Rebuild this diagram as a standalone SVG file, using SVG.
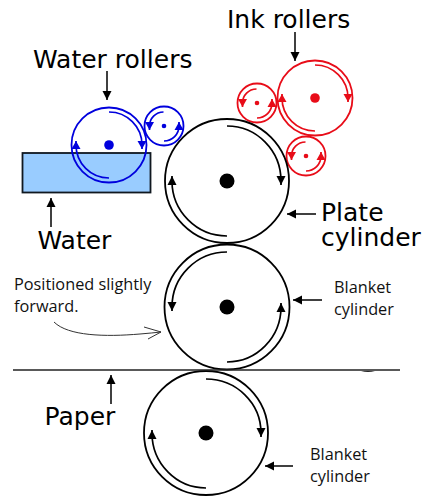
<svg xmlns="http://www.w3.org/2000/svg" width="440" height="497" viewBox="0 0 440 497">
<style>
.k{font-family:"DejaVu Sans",sans-serif;font-size:25px;fill:#000}
.o{font-family:"Open Sans",sans-serif;font-size:16.300px;fill:#111}
.c{fill:none;stroke-width:1.800}
.a{fill:none;stroke-width:1.700}
.bk{stroke:#000}.bl{stroke:#0000dd}.rd{stroke:#e80c18}
.l{fill:none;stroke:#000;stroke-width:1.500}
</style>
<defs>
<marker id="ak" markerUnits="userSpaceOnUse" markerWidth="12" markerHeight="12" refX="9" refY="5" orient="auto"><path d="M0,0.500 L9,5 L0,9.500 z" fill="#000"/></marker>
<marker id="ab" markerUnits="userSpaceOnUse" markerWidth="12" markerHeight="12" refX="8" refY="5" orient="auto"><path d="M0,0.500 L8,5 L0,9.500 z" fill="#0000dd"/></marker>
<marker id="ar" markerUnits="userSpaceOnUse" markerWidth="12" markerHeight="12" refX="8" refY="5" orient="auto"><path d="M0,0.500 L8,5 L0,9.500 z" fill="#e80c18"/></marker>
</defs>
<g id="water-tank"><rect x="22.500" y="153" width="128" height="39.500" fill="#99ccff" stroke="#101820" stroke-width="1.800"/></g>
<g id="water-roller-large">
<circle class="c bl" cx="109" cy="145" r="37.500"/><circle cx="109" cy="145" r="4.800" fill="#0000dd"/>
<path class="a bl" marker-end="url(#ab)" d="M109,112 A33,33 0 0 1 142,145 V149"/>
<path class="a bl" marker-end="url(#ab)" d="M109,178 A33,33 0 0 1 76,145 V141"/>
</g>
<g id="water-roller-small">
<circle class="c bl" cx="164" cy="126" r="19.500"/><circle cx="164" cy="126" r="2.300" fill="#0000dd"/>
<path class="a bl" marker-end="url(#ab)" d="M163.500,112 A14,14 0 0 0 149.500,126 V130"/>
<path class="a bl" marker-end="url(#ab)" d="M164,141 A15,15 0 0 0 179,126 V122"/>
</g>
<g id="ink-roller-large">
<circle class="c rd" cx="315" cy="98" r="37.500"/><circle cx="315" cy="98" r="4.800" fill="#e80c18"/>
<path class="a rd" marker-end="url(#ar)" d="M315,65 A33,33 0 0 1 348,98 V102"/>
<path class="a rd" marker-end="url(#ar)" d="M315,131 A33,33 0 0 1 282,98 V94"/>
</g>
<g id="ink-roller-left">
<circle class="c rd" cx="257" cy="103" r="19.500"/><circle cx="257" cy="103" r="2.300" fill="#e80c18"/>
<path class="a rd" marker-end="url(#ar)" d="M256.500,89 A14,14 0 0 0 242.500,103 V107"/>
<path class="a rd" marker-end="url(#ar)" d="M257,118 A15,15 0 0 0 272,103 V99"/>
</g>
<g id="ink-roller-bottom">
<circle class="c rd" cx="306" cy="156" r="19.500"/><circle cx="306" cy="156" r="2.300" fill="#e80c18"/>
<path class="a rd" marker-end="url(#ar)" d="M305.500,142 A14,14 0 0 0 291.500,156 V160"/>
<path class="a rd" marker-end="url(#ar)" d="M306,171 A15,15 0 0 0 321,156 V152"/>
</g>
<g id="plate-cylinder">
<circle class="c bk" cx="227" cy="181" r="62"/><circle cx="227" cy="181" r="7.500" fill="#000"/>
<path class="a bk" marker-end="url(#ak)" d="M227,126 A54,55 0 0 1 281,181 V185"/>
<path class="a bk" marker-end="url(#ak)" d="M227,236 A55,55 0 0 1 172,181 V176"/>
</g>
<g id="blanket-cylinder-upper">
<circle class="c bk" cx="227" cy="307" r="62.500"/><circle cx="227" cy="307" r="7.500" fill="#000"/>
<path class="a bk" marker-end="url(#ak)" d="M227,252 A55,55 0 0 0 172,307 V311"/>
<path class="a bk" marker-end="url(#ak)" d="M227,362 A54,55 0 0 0 281,307 V303"/>
</g>
<g id="blanket-cylinder-lower">
<circle class="c bk" cx="206" cy="433" r="62"/><circle cx="206" cy="433" r="7.500" fill="#000"/>
<path class="a bk" marker-end="url(#ak)" d="M206,379 A55,54 0 0 1 261,433 V437"/>
<path class="a bk" marker-end="url(#ak)" d="M206,488 A54,55 0 0 1 152,433 V430"/>
</g>
<g id="paper"><path d="M13,370 H400" fill="none" stroke="#222" stroke-width="1.500"/><path d="M361,371 Q368,373 375,371 z" fill="#222"/></g>
<g id="connectors">
<path class="l" marker-end="url(#ak)" d="M107,71 V100"/>
<path class="l" marker-end="url(#ak)" d="M51,227 V198"/>
<path class="l" marker-end="url(#ak)" d="M295,32 V61"/>
<path class="l" marker-end="url(#ak)" d="M316,214 H287"/>
<path class="l" marker-end="url(#ak)" d="M322,300 H293"/>
<path class="l" marker-end="url(#ak)" d="M293,466 H265"/>
<path class="l" marker-end="url(#ak)" d="M111,404 V375"/>
<path fill="none" stroke="#333" stroke-width="1" d="M54,322 C68,336 105,337 140,334 Q152,333 161,332 M144,327 L161,332 L148,339"/>
</g>
<g id="labels">
<text class="k" x="33" y="68">Water rollers</text>
<text class="k" x="227" y="28">Ink rollers</text>
<text class="k" x="37.500" y="249">Water</text>
<text class="k"><tspan x="321" y="221">Plate</tspan><tspan x="321" y="246">cylinder</tspan></text>
<text class="k" x="44.500" y="425">Paper</text>
<text class="o" x="14" y="290">Positioned slightly</text>
<text class="o" x="14" y="312">forward.</text>
<text class="o" x="334" y="293">Blanket</text>
<text class="o" x="334" y="315">cylinder</text>
<text class="o" x="310" y="460">Blanket</text>
<text class="o" x="310" y="482">cylinder</text>
</g>
</svg>
